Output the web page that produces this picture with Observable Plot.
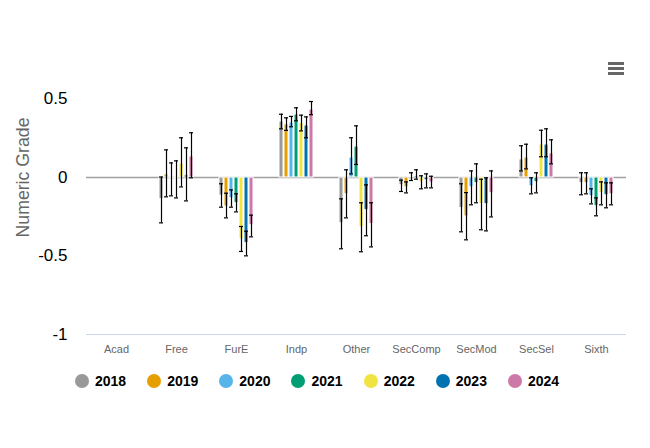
<!DOCTYPE html>
<html>
<head>
<meta charset="utf-8">
<script src="https://cdn.jsdelivr.net/npm/d3@7"></script>
<script src="https://cdn.jsdelivr.net/npm/@observablehq/plot@0.6"></script>
<style>
  body { margin: 0; background: #fff; font-family: "Liberation Sans", Arial, sans-serif; }
  #wrap { position: relative; width: 650px; height: 448px; }
  #menu { position: absolute; left: 608px; top: 62px; width: 16px; }
  #menu div { height: 3px; background: #666; margin-bottom: 2px; }
  #legend { display: flex; align-items: center; padding-left: 75px; margin-top: 12px; height: 14px; }
  .item { display: flex; align-items: center; margin-right: 21px; }
  .dot { width: 14px; height: 14px; border-radius: 50%; margin-right: 6px; }
  .lab { font-weight: bold; font-size: 14px; color: #000; line-height: 14px; }
</style>
</head>
<body>
<div id="wrap">
  <div id="chart"></div>
  <div id="legend"></div>
  <div id="menu"><div></div><div></div><div></div></div>
</div>
<script>
const categories = ["Acad", "Free", "FurE", "Indp", "Other", "SecComp", "SecMod", "SecSel", "Sixth"];
const years = ["2018", "2019", "2020", "2021", "2022", "2023", "2024"];
const colors = ["#999999", "#E69F00", "#56B4E9", "#009E73", "#F0E442", "#0072B2", "#CC79A7"];
const yTicks = [-1, -0.5, 0, 0.5];

// mean values per year (category order as above)
const v2018 = [null, -0.138, -0.115, 0.357, -0.291, -0.049, -0.195, 0.115, -0.036];
const v2019 = [null, 0.019, -0.185, 0.338, -0.106, -0.062, -0.248, 0.127, -0.036];
const v2020 = [null, -0.005, -0.132, 0.350, 0.127, 0.005, -0.062, -0.055, -0.119];
const v2021 = [null, -0.005, -0.163, 0.401, 0.197, 0.010, -0.036, -0.030, -0.183];
const v2022 = [null, 0.089, -0.393, 0.348, -0.316, -0.030, -0.170, 0.210, -0.100];
const v2023 = [null, 0.013, -0.418, 0.331, -0.208, -0.017, -0.170, 0.210, -0.113];
const v2024 = [null, 0.134, -0.304, 0.433, -0.297, -0.032, -0.100, 0.153, -0.106];

// error bar lower bounds
const lo2018 = [null, -0.289, -0.189, 0.310, -0.454, -0.089, -0.346, 0.042, -0.110];
const lo2019 = [null, -0.123, -0.257, 0.300, -0.257, -0.098, -0.397, 0.055, -0.104];
const lo2020 = [null, -0.117, -0.189, 0.323, 0.023, -0.019, -0.174, -0.104, -0.168];
const lo2021 = [null, -0.130, -0.219, 0.361, 0.083, -0.011, -0.161, -0.098, -0.244];
const lo2022 = [null, -0.060, -0.471, 0.297, -0.473, -0.072, -0.333, 0.132, -0.174];
const lo2023 = [null, -0.149, -0.499, 0.253, -0.371, -0.066, -0.340, 0.132, -0.193];
const lo2024 = [null, -0.002, -0.378, 0.400, -0.442, -0.066, -0.251, 0.087, -0.174];

// error bar upper bounds
const hi2018 = [null, 0.003, -0.040, 0.403, -0.136, -0.017, -0.040, 0.202, 0.030];
const hi2019 = [null, 0.176, -0.100, 0.380, 0.049, -0.028, -0.096, 0.212, 0.030];
const hi2020 = [null, 0.093, -0.079, 0.389, 0.253, 0.030, 0.042, -0.002, -0.072];
const hi2021 = [null, 0.106, -0.104, 0.444, 0.329, 0.049, 0.087, 0.030, -0.130];
const hi2022 = [null, 0.253, -0.312, 0.397, -0.161, 0.011, -0.011, 0.301, -0.028];
const hi2023 = [null, 0.189, -0.342, 0.386, -0.047, 0.023, -0.002, 0.310, -0.034];
const hi2024 = [null, 0.285, -0.240, 0.484, -0.161, 0.008, 0.042, 0.240, -0.034];

const values = [v2018, v2019, v2020, v2021, v2022, v2023, v2024];
const lows = [lo2018, lo2019, lo2020, lo2021, lo2022, lo2023, lo2024];
const highs = [hi2018, hi2019, hi2020, hi2021, hi2022, hi2023, hi2024];

// every category gets rows (Acad has no values) so that all facets exist
const rows = [];
years.forEach((yr, i) => {
  categories.forEach((cat, j) => {
    rows.push({cat, year: yr, value: values[i][j], lo: lows[i][j], hi: highs[i][j]});
  });
});

const chart = Plot.plot({
  width: 650,
  height: 362,
  marginTop: 20,
  marginBottom: 28,
  marginLeft: 84,
  marginRight: 23,
  style: {fontFamily: '"Liberation Sans", Arial, sans-serif', background: "#fff"},
  fx: {domain: categories, padding: 0},
  x: {domain: years, paddingInner: 0.2, paddingOuter: 2.43, axis: null},
  y: {domain: [-1, 1]},
  color: {domain: years, range: colors},
  marks: [
    Plot.ruleY(rows, Plot.groupZ({y: () => -1}, {fx: "cat", stroke: "#ccd6eb", strokeWidth: 1})),
    Plot.ruleY(rows, Plot.groupZ({y: () => 0}, {fx: "cat", stroke: "#a0a0a0", strokeWidth: 1.5})),
    Plot.barY(rows, {fx: "cat", x: "year", y: "value", fill: "year", stroke: "white", strokeWidth: 1}),
    Plot.ruleX(rows, {fx: "cat", x: "year", y1: "lo", y2: "hi", stroke: "#000", strokeWidth: 1.2}),
    Plot.tickY(rows, {fx: "cat", x: "year", y: "lo", stroke: "#000", strokeWidth: 1.2}),
    Plot.tickY(rows, {fx: "cat", x: "year", y: "hi", stroke: "#000", strokeWidth: 1.2}),
    Plot.axisY({ticks: yTicks, tickSize: 0, tickPadding: 19, fontSize: 17, color: "#000",
      tickFormat: d => String(d), label: null}),
    Plot.axisY({ticks: [], label: "Numeric Grade", labelAnchor: "center", labelArrow: "none",
      labelOffset: 70, fontSize: 17.7, color: "#666"}),
    Plot.axisFx({anchor: "bottom", tickSize: 0, tickPadding: 11, fontSize: 11, color: "#666", label: null})
  ]
});
document.getElementById("chart").appendChild(chart);

const legend = document.getElementById("legend");
years.forEach((yr, i) => {
  const item = document.createElement("div");
  item.className = "item";
  const dot = document.createElement("div");
  dot.className = "dot";
  dot.style.background = colors[i];
  const lab = document.createElement("span");
  lab.className = "lab";
  lab.textContent = yr;
  item.appendChild(dot);
  item.appendChild(lab);
  legend.appendChild(item);
});
</script>
</body>
</html>
